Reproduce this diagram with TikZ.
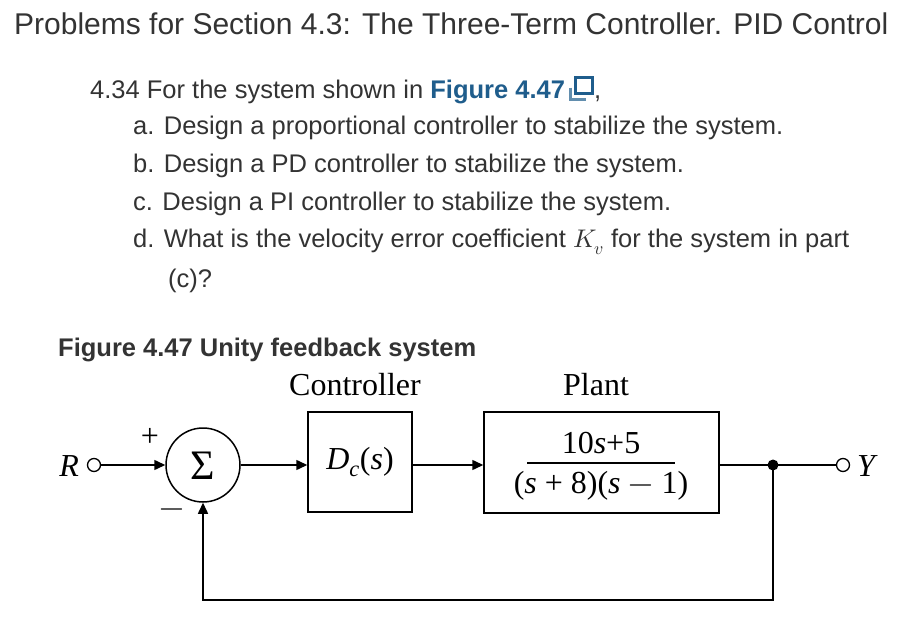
\documentclass[tikz,border=0pt]{standalone}
\usepackage{fontspec}
\setmainfont{Liberation Sans}
\newfontfamily\serif{Liberation Serif}
\usepackage{unicode-math}
\setmathfont{Latin Modern Math}
\usetikzlibrary{arrows.meta}
\definecolor{txt}{HTML}{333333}
\definecolor{link}{HTML}{1F5D8C}
\tikzset{x=1pt,y=-1pt,
 t/.style={anchor=west,inner sep=0,text=txt,font=\fontsize{25.5}{28}\selectfont},
 blk/.style={draw,line width=1.5pt,inner sep=0},
 ln/.style={line width=1.5pt},
 arr/.style={ln,-{Triangle[length=11pt,width=10pt]}},
 port/.style={circle,draw,line width=1.3pt,minimum size=13pt,inner sep=0},
 df/.style={font=\serif\fontsize{32}{36}\selectfont,inner sep=0}}
\begin{document}
\begin{tikzpicture}
\useasboundingbox[fill=white] (0,0) rectangle (905,620);
\node[t,font=\fontsize{30}{34}\selectfont] (title) at (14,24) {Problems for Section 4.3: The Three-Term Controller. PID Control};
\node[t] (p) at (90,90) {4.34 For the system shown in \textcolor{link}{\textbf{Figure 4.47}}\,\tikz[baseline=-1pt]{\draw[link,line width=3pt] (0,-4) rectangle (17,-20); \draw[link!70,line width=3pt] (-5,-10)--(-5,2)--(10,2);},};
\node[t] (a) at (133,128) {a. Design a proportional controller to stabilize the system.};
\node[t] (b) at (133,166) {b. Design a PD controller to stabilize the system.};
\node[t] (c) at (133,204) {c. Design a PI controller to stabilize the system.};
\node[t] (d) at (133,242) {d. What is the velocity error coefficient $K_v$ for the system in part};
\node[t] (d2) at (168,281) {(c)?};
\node[t,font=\bfseries\fontsize{25.5}{28}\selectfont] (cap) at (58,350) {Figure 4.47 Unity feedback system};
\node[df] (lc) at (355,385) {Controller};
\node[df] (lp) at (596,385) {Plant};
\node[df,anchor=east] (R) at (79,466) {\itshape R};
\node[port] (rin) at (94,465) {};
\node[circle,draw,line width=1.5pt,minimum size=74pt,inner sep=0] (sum) at (203,465) {};
\node[font=\serif\fontsize{42}{46}\selectfont,inner sep=0] (sig) at (203,466) {Σ};
\node[df] at (150,437) {+};
\node[df] at (172,513) {$-$};
\node[blk,minimum width=104pt,minimum height=100pt] (dc) at (360,462) {\serif\fontsize{32}{36}\selectfont\itshape D\textsubscript{c}\upshape(\itshape s\upshape)};
\node[blk,minimum width=235pt,minimum height=101pt] (pl) at (601.5,462.5) {};
\node[df] (num) at (601,443) {10\textit{s}+5};
\node[df] (den) at (601,486) {(\textit{s} + 8)(\textit{s} $-$ 1)};
\draw[line width=1.3pt] (527,463) -- (675,463);
\coordinate (j) at (773,465);
\node[port] (yout) at (843,465) {};
\node[df,anchor=west] (Y) at (857,466) {\itshape Y};
\coordinate (bl) at (773,600);
\coordinate (br) at (203,600);
\draw[arr] (rin) -- (sum);
\draw[arr] (sum) -- (dc.west|-sum);
\draw[arr] (dc.east|-sum) -- (pl.west|-sum);
\draw[ln] (pl.east|-sum) -- (j) -- (yout);
\fill (j) circle (5.5pt);
\draw[arr] (j) -- (bl) -- (br) -- (sum.south);
\end{tikzpicture}
\end{document}
